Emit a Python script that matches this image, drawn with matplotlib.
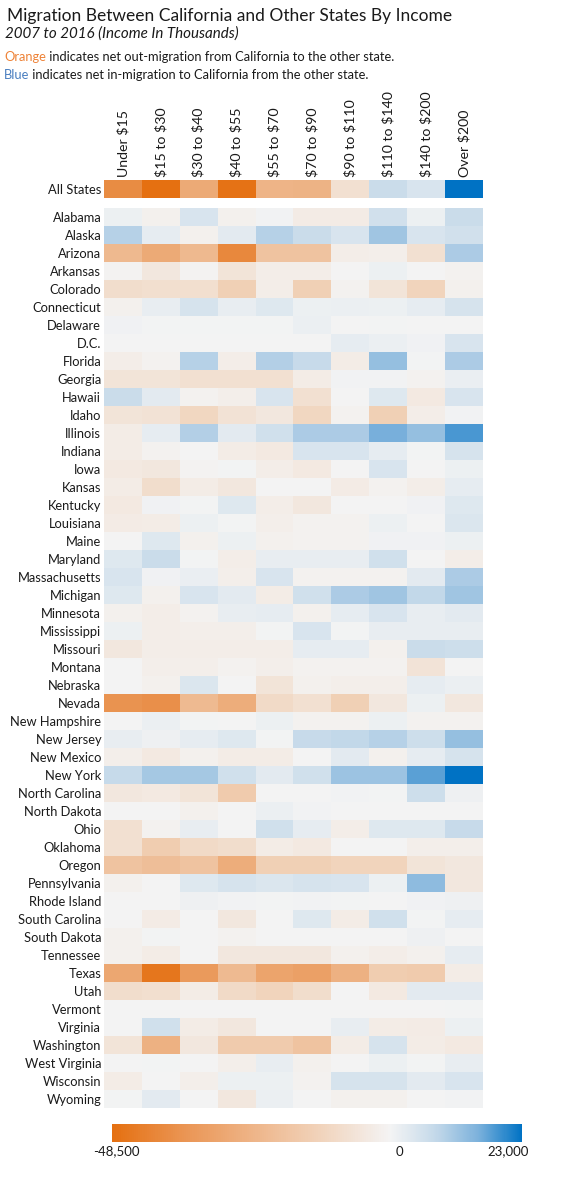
import numpy as np
import matplotlib
matplotlib.use('Agg')
import matplotlib.pyplot as plt
import matplotlib.transforms as mtransforms
from matplotlib.colors import LinearSegmentedColormap, TwoSlopeNorm

plt.rcParams['font.family'] = ['Lato', 'DejaVu Sans']
plt.rcParams['text.parse_math'] = False

# income brackets (thousands)
brackets = ['Under $15', '$15 to $30', '$30 to $40', '$40 to $55', '$55 to $70',
            '$70 to $90', '$90 to $110', '$110 to $140', '$140 to $200', 'Over $200']

all_states = [-38800, -48500, -28000, -47500, -24000, -24500, -7500, 7000, 4500, 23000]

states = ['Alabama', 'Alaska', 'Arizona', 'Arkansas', 'Colorado', 'Connecticut', 'Delaware',
          'D.C.', 'Florida', 'Georgia', 'Hawaii', 'Idaho', 'Illinois', 'Indiana', 'Iowa',
          'Kansas', 'Kentucky', 'Louisiana', 'Maine', 'Maryland', 'Massachusetts', 'Michigan',
          'Minnesota', 'Mississippi', 'Missouri', 'Montana', 'Nebraska', 'Nevada',
          'New Hampshire', 'New Jersey', 'New Mexico', 'New York', 'North Carolina',
          'North Dakota', 'Ohio', 'Oklahoma', 'Oregon', 'Pennsylvania', 'Rhode Island',
          'South Carolina', 'South Dakota', 'Tennessee', 'Texas', 'Utah', 'Vermont',
          'Virginia', 'Washington', 'West Virginia', 'Wisconsin', 'Wyoming']

# net migration per state and bracket
state_vals = [
    [1200, -1500, 4600, -1500, 500, -3400, -3400, 5700, 1200, 6900],            # Alabama
    [9200, 2300, -1500, 2800, 9200, 6900, 4600, 11500, 4600, 5700],             # Alaska
    [-22000, -28000, -22000, -40000, -18500, -18500, -2400, -2000, -7300, 10300],  # Arizona
    [-500, -4800, -600, -5800, -2400, -2400, -300, 1100, -300, -800],           # Arkansas
    [-8700, -7800, -7800, -13500, -2400, -13500, -1000, -5800, -12000, -1400],  # Colorado
    [-1400, 1800, 5000, 1800, 3500, 1100, 1400, 1100, 2300, 5000],              # Connecticut
    [600, 200, 200, 200, 200, 1400, 100, 300, 100, 100],                        # Delaware
    [-200, -200, 0, 0, 0, -100, 2300, 1400, 700, 4600],                         # D.C.
    [-2400, -800, 9200, -2400, 9700, 7400, -2900, 12700, 200, 10300],           # Florida
    [-5800, -5800, -7300, -7300, -7300, -2900, 400, 400, -900, 1600],           # Georgia
    [6900, 2800, -900, -1900, 4600, -7300, -300, 3500, -3900, 4600],            # Hawaii
    [-5800, -6800, -10700, -6800, -4900, -10700, -900, -13600, -2400, 500],     # Idaho
    [-2900, 2300, 9700, 2800, 5800, 10300, 10300, 15600, 12700, 18400],         # Illinois
    [-2900, -900, -300, -2900, -3900, 4600, 4600, 2300, 200, 5000],             # Indiana
    [-3900, -4900, -400, 200, -2400, -3900, -300, 4600, -200, 1100],            # Iowa
    [-2900, -8700, -2900, -4900, 100, 100, -3400, -900, -2400, 2300],           # Kansas
    [-3900, 700, 300, 3500, -2400, -4900, -200, -200, 700, 3500],               # Kentucky
    [-3400, -2900, 1100, 300, -1900, -900, -900, 1100, -200, 4100],             # Louisiana
    [-200, 3500, -1400, 1100, -1400, -900, -900, 700, 700, 1100],               # Maine
    [3500, 6900, 200, -2400, 1800, 1800, 1800, 5800, -300, -2400],              # Maryland
    [4600, 700, 1600, -1900, 4600, -900, -900, -900, 2800, 10300],              # Massachusetts
    [3500, -1400, 4600, 2800, -2900, 5800, 10300, 11500, 8000, 11500],          # Michigan
    [-1400, -2400, -900, 1800, 2300, -1400, 2300, 4600, 1800, 2800],            # Minnesota
    [1100, -2400, -1900, -1900, 200, 4600, 200, 1800, 1800, 1800],              # Mississippi
    [-4900, -2400, -2400, -2400, -2400, 2300, 2300, -1400, 6900, 6400],         # Missouri
    [-300, -1900, -1900, -900, -1900, -900, -900, -900, -6300, -200],           # Montana
    [-300, -1400, 4100, -200, -5800, -1400, -1900, -1900, 2300, 1400],          # Nebraska
    [-36400, -37800, -21800, -26700, -9700, -7300, -13600, -4900, 1100, -4900],  # Nevada
    [-200, 1400, 300, -200, 1100, -900, -900, 1100, -900, -900],                # New Hampshire
    [1800, 900, 2300, 3500, 200, 7400, 8000, 9200, 6400, 12700],                # New Jersey
    [-1900, -3900, -1400, -2900, -2900, -300, 2800, -1400, 2300, 5000],         # New Mexico
    [7600, 11000, 11000, 5800, 2800, 5800, 12000, 12000, 17300, 23000],         # New York
    [-4900, -3900, -5800, -15500, -300, -200, 400, 200, 6400, 900],             # North Carolina
    [-300, -300, -1400, -200, 1400, 400, -200, -200, -300, -300],               # North Dakota
    [-7300, -900, 1800, 100, 5800, 2300, -2400, 3500, 3500, 7400],              # Ohio
    [-7300, -14600, -9700, -8700, -2900, -3900, -300, -300, -1900, -1900],      # Oklahoma
    [-18400, -20400, -18400, -26700, -13600, -13600, -12100, -12100, -5800, -4900],  # Oregon
    [-1400, -200, 3500, 5000, 4100, 5000, 4600, 1100, 13300, -4900],            # Pennsylvania
    [-300, -100, 900, 500, 200, 400, 200, 100, 700, 900],                       # Rhode Island
    [-300, -3400, -300, -4900, -200, 3500, -2900, 5800, 200, 2300],             # South Carolina
    [-1400, 200, -200, -900, -300, -300, -200, -200, 900, 100],                 # South Dakota
    [-1400, -2900, -200, -4900, -4900, -4900, -1400, -2400, -1400, 2300],       # Tennessee
    [-29100, -46000, -34000, -21800, -30000, -31500, -25200, -14600, -15500, -2900],  # Texas
    [-8700, -7800, -2900, -9700, -12100, -8700, -300, -3900, 2800, 2800],       # Utah
    [-200, -200, -100, -200, -100, -200, -100, 100, 100, 200],                  # Vermont
    [-200, 5800, -2900, -4900, -200, -200, 1800, -2900, -3400, 1100],           # Virginia
    [-5800, -25200, -4900, -15500, -15500, -18400, -2900, 5000, -2900, -3900],  # Washington
    [-300, 200, -200, -1900, 1800, -1400, -200, 1100, 200, 1800],               # West Virginia
    [-2900, -200, -1900, 1100, 1100, -900, 5000, 5000, 2800, 4600],             # Wisconsin
    [200, 2800, -200, -4900, 1400, -300, -1400, -1400, -300, 400],              # Wyoming
]

vmin, vmax = -48500, 23000
legend_ticks = [vmin, 0, vmax]
legend_labels = ['-48,500', '0', '23,000']

cmap = LinearSegmentedColormap.from_list('orange_blue', [
    (0.0, (229/255, 112/255, 17/255)),
    (0.125, (234/255, 148/255, 82/255)),
    (0.25, (238/255, 180/255, 135/255)),
    (0.375, (241/255, 212/255, 188/255)),
    (0.5, (244/255, 244/255, 244/255)),
    (0.667, (198/255, 218/255, 234/255)),
    (0.833, (125/255, 178/255, 220/255)),
    (1.0, (0/255, 114/255, 196/255)),
])
norm = TwoSlopeNorm(vcenter=0, vmin=vmin, vmax=vmax)

W, H = 565, 1184
fig = plt.figure(figsize=(W / 100, H / 100), dpi=100)


def box(x0, y0, x1, y1):
    return [x0 / W, 1 - y1 / H, (x1 - x0) / W, (y1 - y0) / H]


txt = '#1a1a1a'
lab_fs = 9.3

ax_all = fig.add_axes(box(104, 180, 483, 198))
ax_all.imshow([all_states], cmap=cmap, norm=norm, aspect='auto', interpolation='nearest')
ax_all.set_yticks([0])
ax_all.set_yticklabels(['All States'], fontsize=lab_fs, color=txt)
ax_all.set_xticks(range(len(brackets)))
ax_all.set_xticklabels(brackets, rotation=90, fontsize=10.2, color=txt)
ax_all.xaxis.tick_top()
ax_all.tick_params(length=0, pad=2)
for s in ax_all.spines.values():
    s.set_visible(False)

ax = fig.add_axes(box(104, 208, 483, 1108))
ax.imshow(np.array(state_vals), cmap=cmap, norm=norm, aspect='auto', interpolation='nearest')
ax.set_yticks(range(len(states)))
ax.set_yticklabels(states, fontsize=lab_fs, color=txt)
ax.set_xticks([])
ax.tick_params(length=0, pad=2)
for s in ax.spines.values():
    s.set_visible(False)

# legend bar
cax = fig.add_axes(box(112, 1124, 522, 1142))
sm = plt.cm.ScalarMappable(norm=norm, cmap=cmap)
cb = fig.colorbar(sm, cax=cax, orientation='horizontal')
cax.set_xscale('linear')
cax.set_xlim(vmin, vmax)
cb.outline.set_visible(False)
cax.set_xticks([])
# tableau nudges the end labels inwards a little
nudges = [4, 9, -14]
for v, lab, dx in zip(legend_ticks, legend_labels, nudges):
    tr = cax.get_xaxis_transform() + mtransforms.ScaledTranslation(dx / 100, 0, fig.dpi_scale_trans)
    cax.text(v, -0.2, lab, transform=tr, ha='center', va='top', fontsize=9.5, color=txt)

# titles
fig.text(7 / W, 1 - 21 / H, 'Migration Between California and Other States By Income',
         fontsize=12.5, color=txt, va='baseline')
fig.text(5 / W, 1 - 38 / H, '2007 to 2016 (Income In Thousands)',
         fontsize=10.9, style='italic', color=txt, va='baseline')

line_fs = 9.3
t1 = fig.text(4 / W, 1 - 61 / H, 'Orange', fontsize=line_fs, color='#ee8236', va='baseline')
t2 = fig.text(4 / W, 1 - 79 / H, 'Blue', fontsize=line_fs, color='#4a7fc0', va='baseline')

# place the remainder of each colour line right after the coloured word
fig.canvas.draw()
r = fig.canvas.get_renderer()
for t, rest in [(t1, ' indicates net out-migration from California to the other state.'),
                (t2, ' indicates net in-migration to California from the other state.')]:
    bb = t.get_window_extent(r)
    x = bb.x1 / fig.bbox.width
    fig.text(x, t.get_position()[1], rest, fontsize=line_fs, color=txt, va='baseline')

fig.savefig('out.png', dpi=100)
